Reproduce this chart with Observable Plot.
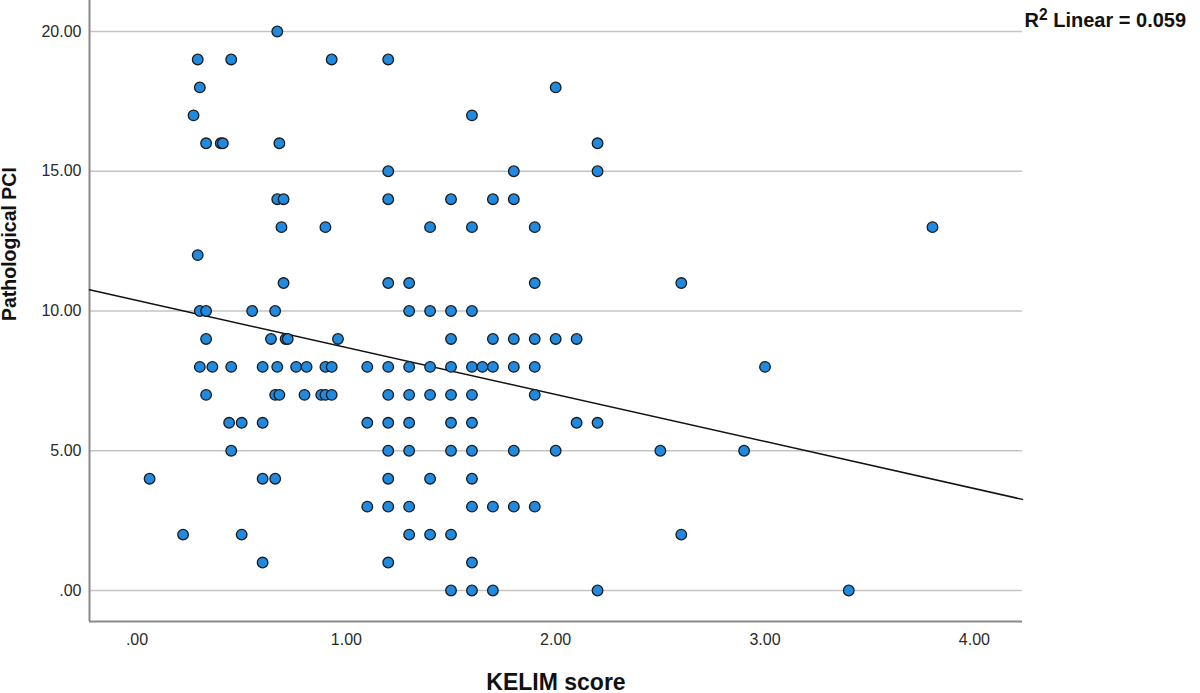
<!DOCTYPE html>
<html>
<head>
<meta charset="utf-8">
<script src="https://cdn.jsdelivr.net/npm/d3@7"></script>
<script src="https://cdn.jsdelivr.net/npm/@observablehq/plot@0.6"></script>
<style>
  html, body { margin: 0; padding: 0; background: #fff; }
  #chart svg { display: block; }
</style>
</head>
<body>
<div id="chart"></div>
<script>
// KELIM score (x) and Pathological PCI (y)
const kelim = [
  0.67,
  0.29, 0.45, 0.93, 1.20,
  0.30, 2.00,
  0.27, 1.60,
  0.33, 0.40, 0.41, 0.68, 2.20,
  1.20, 1.80, 2.20,
  0.67, 0.70, 1.20, 1.50, 1.70, 1.80,
  0.69, 0.90, 1.40, 1.60, 1.90, 3.80,
  0.29,
  0.70, 1.20, 1.30, 1.90, 2.60,
  0.30, 0.33, 0.55, 0.66, 1.30, 1.40, 1.50, 1.60,
  0.33, 0.64, 0.71, 0.72, 0.96, 1.50, 1.70, 1.80, 1.90, 2.00, 2.10,
  0.30, 0.36, 0.45, 0.60, 0.67, 0.76, 0.81, 0.90, 0.93, 1.10, 1.20, 1.30, 1.40, 1.50, 1.60, 1.65, 1.70, 1.80, 1.90, 3.00,
  0.33, 0.66, 0.68, 0.80, 0.88, 0.90, 0.93, 1.20, 1.30, 1.40, 1.50, 1.60, 1.90,
  0.44, 0.50, 0.60, 1.10, 1.20, 1.30, 1.50, 1.60, 2.10, 2.20,
  0.45, 1.20, 1.30, 1.50, 1.60, 1.80, 2.00, 2.50, 2.90,
  0.06, 0.60, 0.66, 1.20, 1.40, 1.60,
  1.10, 1.20, 1.30, 1.60, 1.70, 1.80, 1.90,
  0.22, 0.50, 1.30, 1.40, 1.50, 2.60,
  0.60, 1.20, 1.60,
  1.50, 1.60, 1.70, 2.20, 3.40
];
const pci = [
  20,
  19, 19, 19, 19,
  18, 18,
  17, 17,
  16, 16, 16, 16, 16,
  15, 15, 15,
  14, 14, 14, 14, 14, 14,
  13, 13, 13, 13, 13, 13,
  12,
  11, 11, 11, 11, 11,
  10, 10, 10, 10, 10, 10, 10, 10,
  9, 9, 9, 9, 9, 9, 9, 9, 9, 9, 9,
  8, 8, 8, 8, 8, 8, 8, 8, 8, 8, 8, 8, 8, 8, 8, 8, 8, 8, 8, 8,
  7, 7, 7, 7, 7, 7, 7, 7, 7, 7, 7, 7, 7,
  6, 6, 6, 6, 6, 6, 6, 6, 6, 6,
  5, 5, 5, 5, 5, 5, 5, 5, 5,
  4, 4, 4, 4, 4, 4,
  3, 3, 3, 3, 3, 3, 3,
  2, 2, 2, 2, 2, 2,
  1, 1, 1,
  0, 0, 0, 0, 0
];

// Fit line (linear) end points as drawn in the reference
const fitX = [-0.227, 4.23];
const fitY = [10.76, 3.26];

// Axes
const xDomain = [-0.227, 4.23];
const yDomain = [-1.11, 21.11];
const xTicks = [0, 1, 2, 3, 4];
const xTickLabels = [".00", "1.00", "2.00", "3.00", "4.00"];
const yTicks = [0, 5, 10, 15, 20];
const yTickLabels = [".00", "5.00", "10.00", "15.00", "20.00"];
const xTitle = ["KELIM score"];
const yTitle = ["Pathological PCI"];
const r2Parts = ["R", "2", " Linear = 0.059"];

const points = kelim.map((x, i) => ({x, y: pci[i]}));
const fit = fitX.map((x, i) => ({x, y: fitY[i]}));

const font = "'Liberation Sans', Arial, Helvetica, sans-serif";

const chart = Plot.plot({
  width: 1200,
  height: 693,
  marginLeft: 89,
  marginRight: 178,
  marginTop: 0,
  marginBottom: 72,
  style: {fontFamily: font, background: "#fff", overflow: "visible"},
  x: {domain: xDomain, label: null},
  y: {domain: yDomain, label: null},
  marks: [
    Plot.gridY(yTicks, {stroke: "#c4c4c4", strokeOpacity: 1, strokeWidth: 1.5}),
    Plot.ruleX([xDomain[0]], {stroke: "#8a8a8a", strokeWidth: 2}),
    Plot.ruleY([yDomain[0]], {stroke: "#8a8a8a", strokeWidth: 2}),
    Plot.axisX(xTicks, {
      tickSize: 0, tickPadding: 12, fontSize: 16, fill: "#2a2a2a",
      tickFormat: d => xTickLabels[xTicks.indexOf(d)], label: null
    }),
    Plot.axisY(yTicks, {
      tickSize: 0, tickPadding: 8, fontSize: 16, fill: "#2a2a2a",
      tickFormat: d => yTickLabels[yTicks.indexOf(d)], label: null
    }),
    Plot.line(fit, {x: "x", y: "y", stroke: "#111", strokeWidth: 1.5}),
    Plot.dot(points, {x: "x", y: "y", r: 5.3, fill: "#1f8ae0", stroke: "#1a1a1a", strokeWidth: 1.3}),
    Plot.text(xTitle, {
      frameAnchor: "bottom", lineAnchor: "bottom", dy: 68,
      fontSize: 23, fontWeight: "bold", fill: "#111"
    }),
    Plot.text(yTitle, {
      frameAnchor: "left", rotate: -90, dx: -79.5, dy: 10,
      fontSize: 19.5, fontWeight: "bold", fill: "#111"
    }),
    Plot.text([r2Parts.join("")], {
      frameAnchor: "top-right", textAnchor: "start", lineAnchor: "bottom",
      dx: 2, dy: 26, fontSize: 20, fontWeight: "bold", fill: "#111",
      className: "r2label"
    })
  ]
});

// Render the R² label with a real superscript
d3.select(chart).selectAll(".r2label text").each(function() {
  const t = d3.select(this);
  t.text(null);
  t.append("tspan").text(r2Parts[0]);
  t.append("tspan").attr("dy", "-0.42em").attr("font-size", "0.78em").text(r2Parts[1]);
  t.append("tspan").attr("dy", "0.33em").text(r2Parts[2]);
});

document.getElementById("chart").appendChild(chart);
</script>
</body>
</html>
